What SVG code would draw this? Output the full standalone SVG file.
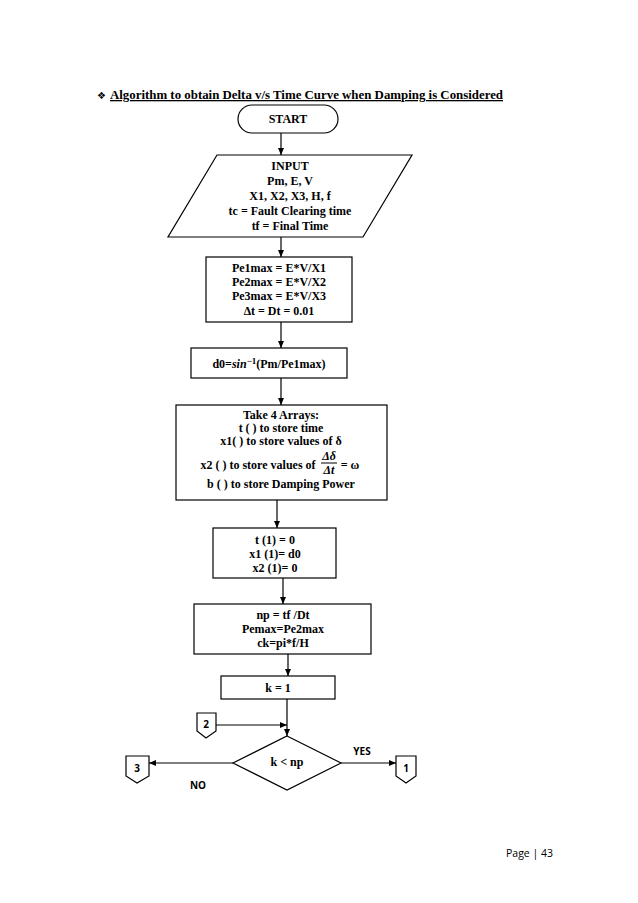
<svg xmlns="http://www.w3.org/2000/svg" width="638" height="903" viewBox="0 0 638 903">
<style>
.s{fill:#fff;stroke:#000;stroke-width:1.2}
.t{font-family:"Liberation Serif",serif;font-weight:bold;font-size:12px;text-anchor:middle}
.c{font-family:"Open Sans","Liberation Sans",sans-serif;font-size:10px;font-weight:bold;text-anchor:middle}
.l{stroke:#000;stroke-width:1.2;fill:none;marker-end:url(#a)}
</style>
<defs><marker id="a" markerWidth="8" markerHeight="8" refX="7" refY="4" orient="auto" markerUnits="userSpaceOnUse"><path d="M0,1 L7,4 L0,7 Z"/></marker></defs>
<rect width="638" height="903" fill="#fff"/>
<text x="97" y="99" font-family="DejaVu Sans,sans-serif" font-size="10">❖</text>
<text x="110" y="99" font-family="Liberation Serif,serif" font-weight="bold" font-size="13" text-decoration="underline" textLength="393" lengthAdjust="spacingAndGlyphs">Algorithm to obtain Delta v/s Time Curve when Damping is Considered</text>
<g id="connectors">
<line class="l" x1="281" y1="133" x2="281" y2="155"/>
<line class="l" x1="281" y1="237" x2="281" y2="257"/>
<line class="l" x1="281" y1="322" x2="281" y2="348"/>
<line class="l" x1="281" y1="378" x2="281" y2="405"/>
<line class="l" x1="277" y1="500" x2="277" y2="528"/>
<line class="l" x1="283" y1="578" x2="283" y2="604"/>
<line class="l" x1="288" y1="654" x2="288" y2="676"/>
<line class="l" x1="287" y1="699" x2="287" y2="736"/>
<line class="l" x1="216" y1="725" x2="287" y2="725"/>
<line class="l" x1="233" y1="763" x2="149" y2="763"/>
<line class="l" x1="341" y1="763" x2="396" y2="763"/>
<text class="c" x="362" y="755">YES</text>
<text class="c" x="198" y="789">NO</text>
</g>
<g id="start"><rect class="s" x="238" y="105" width="100" height="28" rx="14"/><text class="t" x="288" y="123">START</text></g>
<g id="input"><polygon class="s" points="217,155 412,155 363,237 168,237"/>
<text class="t" x="290" y="170">INPUT</text><text class="t" x="290" y="185">Pm, E, V</text><text class="t" x="290" y="200">X1, X2, X3, H, f</text><text class="t" x="290" y="215" font-size="13">tc = Fault Clearing time</text><text class="t" x="290" y="230" font-size="13">tf = Final Time</text></g>
<g id="pe"><rect class="s" x="206" y="257" width="146" height="65"/>
<text class="t" x="279" y="272" font-size="11">Pe1max = E*V/X1</text><text class="t" x="279" y="286" font-size="11">Pe2max = E*V/X2</text><text class="t" x="279" y="300" font-size="11">Pe3max = E*V/X3</text><text class="t" x="279" y="315">∆t = Dt = 0.01</text></g>
<g id="d0"><rect class="s" x="191" y="348" width="156" height="30"/><text class="t" x="269" y="368">d0=<tspan font-style="italic">sin</tspan><tspan font-size="9" dy="-4">−1</tspan><tspan dy="4">(Pm/Pe1max)</tspan></text></g>
<g id="arrays"><rect class="s" x="176" y="405" width="211" height="95"/>
<text class="t" x="281" y="419">Take 4 Arrays:</text><text class="t" x="281" y="432">t ( ) to store time</text><text class="t" x="281" y="445">x1( ) to store values of δ</text>
<text class="t" x="258" y="469">x2 ( ) to store values of</text>
<text class="t" x="329" y="460" font-style="italic" font-size="10">Δδ</text><line x1="321" y1="463" x2="337" y2="463" stroke="#000"/><text class="t" x="329" y="474" font-style="italic" font-size="10">Δt</text>
<text class="t" x="350" y="469">= ω</text>
<text class="t" x="281" y="488">b ( ) to store Damping Power</text></g>
<g id="init"><rect class="s" x="213" y="528" width="123" height="50"/>
<text class="t" x="275" y="544">t (1) = 0</text><text class="t" x="275" y="558">x1 (1)= d0</text><text class="t" x="275" y="572">x2 (1)= 0</text></g>
<g id="np"><rect class="s" x="194" y="604" width="177" height="50"/>
<text class="t" x="283" y="619">np = tf /Dt</text><text class="t" x="283" y="633">Pemax=Pe2max</text><text class="t" x="283" y="647">ck=pi*f/H</text></g>
<g id="k1"><rect class="s" x="221" y="676" width="114" height="23"/><text class="t" x="278" y="692">k = 1</text></g>
<g id="dec"><polygon class="s" points="287,736 341,763 287,790 233,763"/><text class="t" x="287" y="766">k &lt; np</text></g>
<g id="c2"><polygon class="s" points="197,713 216,713 216,731 206,738 197,731"/><text class="c" x="206" y="728">2</text></g>
<g id="c3"><polygon class="s" points="126,756 149,756 149,776 137,783 126,776"/><text class="c" x="137" y="772">3</text></g>
<g id="c1"><polygon class="s" points="396,756 416,756 416,776 406,783 396,776"/><text class="c" x="406" y="772">1</text></g>
<text x="506" y="857" font-family="Open Sans,Liberation Sans,sans-serif" font-size="10.5">Page | 43</text>
</svg>
